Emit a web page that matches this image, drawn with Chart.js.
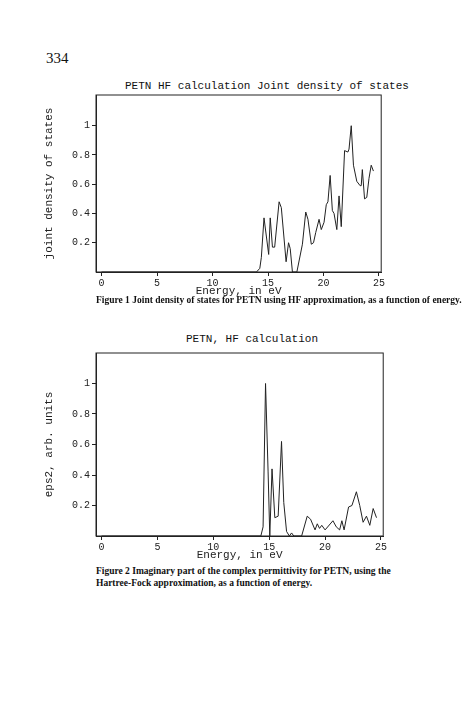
<!DOCTYPE html>
<html>
<head>
<meta charset="utf-8">
<script src="https://cdn.jsdelivr.net/npm/chart.js@4"></script>
<style>
  body { margin: 0; background: #fff; width: 474px; height: 711px; position: relative; overflow: hidden; }
  .t { position: absolute; color: #111; }
  .mono { font-family: "Liberation Mono", monospace; font-size: 11px; }
  .cap { font-family: "Liberation Serif", serif; font-weight: bold; font-size: 9.5px; line-height: 12px; }
  canvas { position: absolute; }
</style>
</head>
<body>
<div class="t" style="left:46px;top:50px;font-family:'Liberation Serif',serif;font-size:15px;">334</div>
<div class="t mono" style="left:125px;top:80px;">PETN HF calculation  Joint density of states</div>
<canvas id="jdos" width="346" height="220" style="left:40px;top:78px;"></canvas>
<div class="t cap" style="left:96px;top:294px;">Figure 1 Joint density of states for PETN using HF approximation, as a function of energy.</div>

<div class="t mono" style="left:186px;top:333px;">PETN, HF calculation</div>
<canvas id="eps2" width="348" height="226" style="left:40px;top:336px;"></canvas>
<div class="t cap" style="left:96px;top:565px;width:300px;">Figure 2 Imaginary part of the complex permittivity for PETN, using the Hartree-Fock approximation, as a function of energy.</div>

<script>
// Joint density of states (HF)
const jdosEnergy = [0, 13.96, 14.26, 14.4, 14.64, 15.06, 15.2, 15.4, 15.6, 16.0, 16.2, 16.63, 16.85, 17.0, 17.2, 17.6,
  18.1, 18.4, 18.6, 18.9, 19.1, 19.3, 19.6, 19.8, 20.05, 20.25, 20.4, 20.6, 20.8, 20.95, 21.2, 21.4, 21.6,
  21.9, 22.2, 22.3, 22.5, 22.7, 23.0, 23.3, 23.4, 23.5, 23.7, 23.9, 24.1, 24.3, 24.5];
const jdosValues = [0, 0, 0.025, 0.10, 0.37, 0.12, 0.37, 0.17, 0.17, 0.48, 0.44, 0.07, 0.20, 0.16, 0, 0,
  0.19, 0.41, 0.36, 0.19, 0.20, 0.27, 0.36, 0.29, 0.34, 0.46, 0.48, 0.66, 0.42, 0.40, 0.29, 0.52, 0.31,
  0.83, 0.82, 0.84, 1.00, 0.73, 0.62, 0.59, 0.59, 0.70, 0.50, 0.51, 0.64, 0.73, 0.69];

// eps2 (arb. units)
const epsEnergy = [0, 14.25, 14.45, 14.67, 14.9, 15.05, 15.25, 15.5, 15.8, 16.1, 16.3, 16.55, 16.8, 17.0, 17.2, 17.9,
  18.4, 18.7, 19.1, 19.3, 19.5, 19.7, 20.0, 20.7, 21.0, 21.3, 21.5, 21.7, 22.1, 22.4, 22.8, 23.1, 23.4,
  23.7, 24.0, 24.3, 24.6];
const epsValues = [0, 0, 0.06, 1.0, 0.42, 0, 0.44, 0.12, 0.13, 0.62, 0.22, 0.03, 0, 0.02, 0, 0,
  0.13, 0.11, 0.04, 0.08, 0.05, 0.07, 0.04, 0.10, 0.06, 0.04, 0.10, 0.04, 0.19, 0.20, 0.29, 0.20, 0.09,
  0.13, 0.07, 0.18, 0.12];

const xTickValues = [0, 5, 10, 15, 20, 25];
const yTickValues = [0.2, 0.4, 0.6, 0.8, 1];

const mono = { family: "Liberation Mono", size: 10 };

const framePlugin = {
  id: "frame",
  afterDraw(chart) {
    const a = chart.chartArea, c = chart.ctx;
    c.save();
    c.strokeStyle = "#222";
    c.lineWidth = 1;
    c.strokeRect(a.left, a.top, a.right - a.left, a.bottom - a.top);
    c.restore();
  }
};

function makeChart(id, xs, ys, yTitle, yMax, yWidth) {
  new Chart(document.getElementById(id), {
    type: "line",
    data: {
      datasets: [{
        data: xs.map((x, i) => ({ x: x, y: ys[i] })),
        borderColor: "#222",
        borderWidth: 1,
        pointRadius: 0,
        tension: 0
      }]
    },
    options: {
      responsive: false,
      animation: false,
      layout: { padding: { top: 17, right: 2 } },
      plugins: { legend: { display: false }, tooltip: { enabled: false } },
      scales: {
        x: {
          type: "linear", min: -0.5, max: 25.2,
          afterBuildTicks: s => { s.ticks = xTickValues.map(v => ({ value: v })); },
          afterFit: s => { s.height = 26; },
          grid: { drawOnChartArea: false, tickLength: 4, color: "#222" },
          border: { color: "#222" },
          ticks: { color: "#222", font: mono, padding: 1, maxRotation: 0 },
          title: { display: true, text: "Energy, in eV", color: "#222", font: { family: "Liberation Mono", size: 11 }, padding: 0 }
        },
        y: {
          min: 0, max: yMax,
          afterBuildTicks: s => { s.ticks = yTickValues.map(v => ({ value: v })); },
          afterFit: s => { s.width = yWidth; },
          grid: { drawOnChartArea: false, tickLength: 4, color: "#222" },
          border: { color: "#222" },
          ticks: { color: "#222", font: mono, padding: 2, callback: v => String(v) },
          title: { display: true, text: yTitle, color: "#222", font: { family: "Liberation Mono", size: 11 }, padding: 2 }
        }
      }
    },
    plugins: [framePlugin]
  });
}

makeChart("jdos", jdosEnergy, jdosValues, "joint density of states", 1.21, 56);
makeChart("eps2", epsEnergy, epsValues, "eps2, arb. units", 1.2, 56);
</script>
</body>
</html>
